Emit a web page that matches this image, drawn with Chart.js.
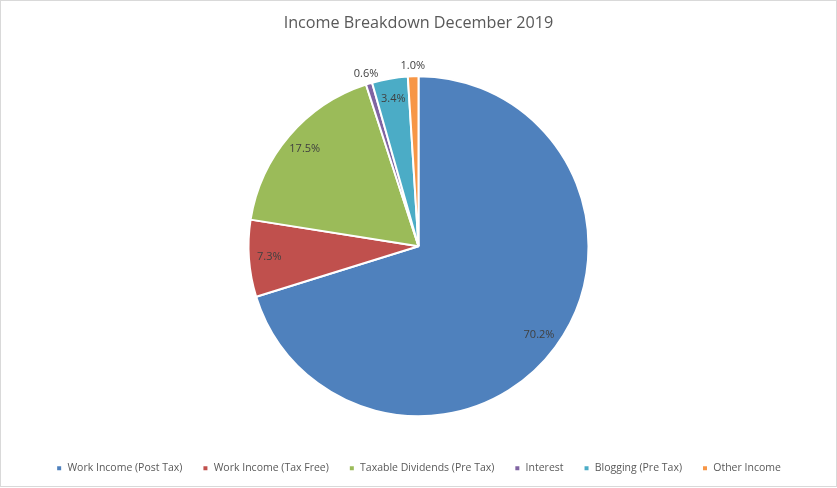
<!DOCTYPE html>
<html>
<head>
<meta charset="utf-8">
<script src="https://cdn.jsdelivr.net/npm/chart.js@4"></script>
<style>
  html, body { margin: 0; padding: 0; background: #fff; }
  .frame {
    position: absolute; left: 0; top: 0;
    width: 835px; height: 485px;
    border: 1px solid #d9d9d9;
    background: #fff;
  }
</style>
</head>
<body>
<div class="frame"><canvas id="incomePie"></canvas></div>
<script>
// Income breakdown, percent of total
const categories = ['Work Income (Post Tax)', 'Work Income (Tax Free)', 'Taxable Dividends (Pre Tax)', 'Interest', 'Blogging (Pre Tax)', 'Other Income'];
const shares = [70.2, 7.3, 17.5, 0.6, 3.4, 1.0];
const sliceColors = ['#4f81bd', '#c0504d', '#9bbb59', '#8064a2', '#4bacc6', '#f79646'];
// small slices get their label outside the pie
const labelOutside = [false, false, false, true, false, true];

const FONT = "'Open Sans', sans-serif";
const LEGEND_H = 43;

// Excel-style percentage labels on each slice
const sliceLabels = {
  id: 'sliceLabels',
  beforeLayout(chart) {
    const lg = chart.legend;
    if (lg && !lg._fixedH) {
      const fit = lg.fit;
      lg.fit = function () { fit.call(this); this.height = LEGEND_H; };
      lg._fixedH = true;
    }
  },
  afterDatasetsDraw(chart) {
    const ctx = chart.ctx;
    const meta = chart.getDatasetMeta(0);
    ctx.save();
    ctx.font = '11px ' + FONT;
    ctx.fillStyle = '#404040';
    ctx.textAlign = 'center';
    ctx.textBaseline = 'middle';
    meta.data.forEach((arc, i) => {
      const p = arc.getProps(['x', 'y', 'startAngle', 'endAngle', 'outerRadius'], true);
      const mid = (p.startAngle + p.endAngle) / 2;
      const r = labelOutside[i] ? p.outerRadius * 1.06 : p.outerRadius * 0.88;
      ctx.fillText(shares[i].toFixed(1) + '%', p.x + Math.cos(mid) * r, p.y + Math.sin(mid) * r);
    });
    ctx.restore();
  }
};

new Chart(document.getElementById('incomePie'), {
  type: 'pie',
  data: {
    labels: categories,
    datasets: [{
      data: shares,
      backgroundColor: sliceColors,
      borderColor: '#ffffff',
      borderWidth: 2,
      radius: 170
    }]
  },
  options: {
    responsive: true,
    maintainAspectRatio: false,
    animation: false,
    layout: { padding: 0 },
    plugins: {
      title: {
        display: true,
        text: 'Income Breakdown December 2019',
        color: '#595959',
        font: { family: FONT, size: 16.2, weight: 'normal' },
        padding: { top: 13, bottom: 16 }
      },
      legend: {
        position: 'bottom',
        labels: {
          color: '#595959',
          font: { family: FONT, size: 10.5 },
          boxWidth: 6,
          boxHeight: 6,
          padding: 20
        }
      },
      tooltip: { enabled: false }
    }
  },
  plugins: [sliceLabels]
});
</script>
</body>
</html>
